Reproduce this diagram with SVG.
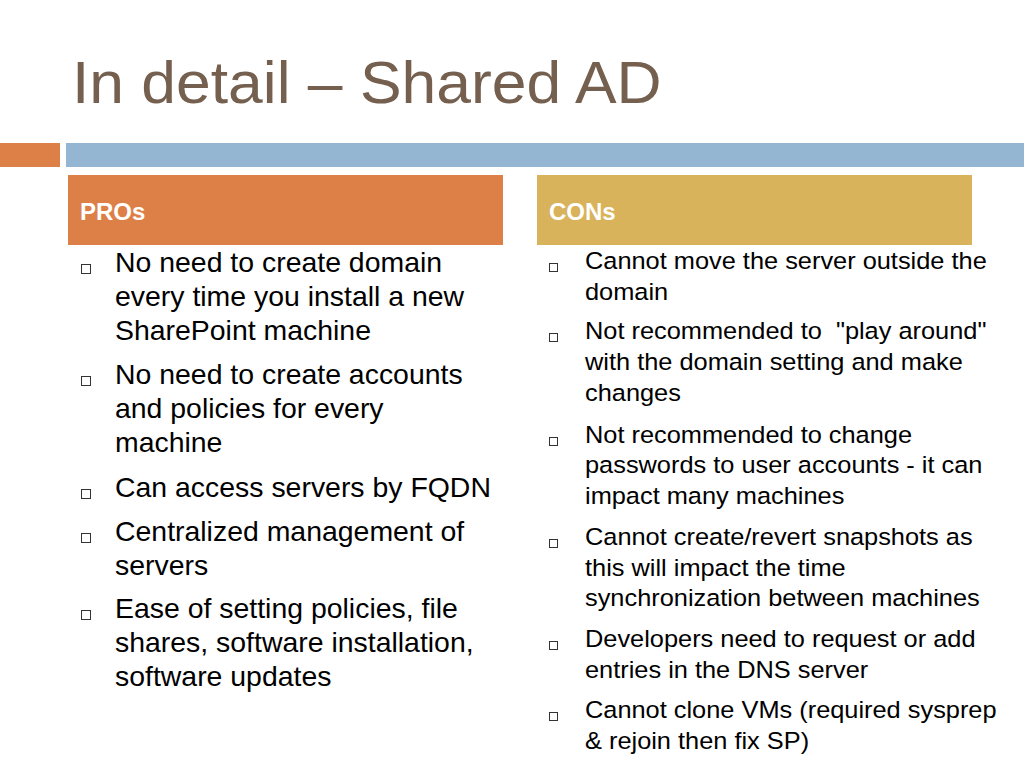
<svg xmlns="http://www.w3.org/2000/svg" width="1024" height="768" viewBox="0 0 1024 768">
<style>
.t{font-family:"Liberation Sans",Arial,sans-serif;fill:#000}
.l{font-size:27px}
.r{font-size:23.5px}
.b{fill:none;stroke:#333;stroke-width:1}
.h{font-family:"Liberation Sans",Arial,sans-serif;font-weight:bold;font-size:24px;fill:#fff}
</style>
<rect width="1024" height="768" fill="#fff"/>
<text x="72" y="103" font-family="Liberation Sans,Arial,sans-serif" font-size="60" fill="#75604f" transform="translate(72 0) scale(1.04 1) translate(-72 0)">In detail – Shared AD</text>
<rect x="0" y="143" width="60" height="24" fill="#dd8047"/>
<rect x="66" y="143" width="958" height="24" fill="#94b6d2"/>
<g id="pros">
<rect x="68" y="175" width="435" height="70" fill="#dd8047"/>
<text class="h" x="80" y="220">PROs</text>
<g class="t l" transform="translate(115 0) scale(1.053 1) translate(-115 0)">
<text x="115" y="272">No need to create domain</text>
<text x="115" y="306">every time you install a new</text>
<text x="115" y="340">SharePoint machine</text>
<text x="115" y="384">No need to create accounts</text>
<text x="115" y="418">and policies for every</text>
<text x="115" y="452">machine</text>
<text x="115" y="497">Can access servers by FQDN</text>
<text x="115" y="541">Centralized management of</text>
<text x="115" y="575">servers</text>
<text x="115" y="618">Ease of setting policies, file</text>
<text x="115" y="652">shares, software installation,</text>
<text x="115" y="686">software updates</text>
</g>
<rect class="b" x="81.5" y="264.5" width="9" height="9"/>
<rect class="b" x="81.5" y="376.5" width="9" height="9"/>
<rect class="b" x="81.5" y="489.5" width="9" height="9"/>
<rect class="b" x="81.5" y="533.5" width="9" height="9"/>
<rect class="b" x="81.5" y="610.5" width="9" height="9"/>
</g>
<g id="cons">
<rect x="537" y="175" width="435" height="70" fill="#d9b25c"/>
<text class="h" x="549" y="220">CONs</text>
<g class="t r" transform="translate(585 0) scale(1.08 1) translate(-585 0)">
<text x="585" y="269">Cannot move the server outside the</text>
<text x="585" y="300">domain</text>
<text x="585" y="339" xml:space="preserve">Not recommended to  "play around"</text>
<text x="585" y="370">with the domain setting and make</text>
<text x="585" y="401">changes</text>
<text x="585" y="443">Not recommended to change</text>
<text x="585" y="473">passwords to user accounts - it can</text>
<text x="585" y="504">impact many machines</text>
<text x="585" y="545">Cannot create/revert snapshots as</text>
<text x="585" y="576">this will impact the time</text>
<text x="585" y="606">synchronization between machines</text>
<text x="585" y="647">Developers need to request or add</text>
<text x="585" y="678">entries in the DNS server</text>
<text x="585" y="718">Cannot clone VMs (required sysprep</text>
<text x="585" y="749">&amp; rejoin then fix SP)</text>
</g>
<rect class="b" x="549.5" y="263.5" width="8" height="8"/>
<rect class="b" x="549.5" y="333.5" width="8" height="8"/>
<rect class="b" x="549.5" y="437.5" width="8" height="8"/>
<rect class="b" x="549.5" y="539.5" width="8" height="8"/>
<rect class="b" x="549.5" y="641.5" width="8" height="8"/>
<rect class="b" x="549.5" y="712.5" width="8" height="8"/>
</g>
</svg>
